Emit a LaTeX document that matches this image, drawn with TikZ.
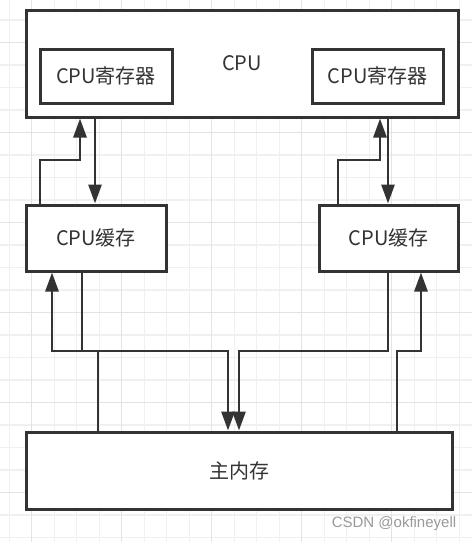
\documentclass[tikz,border=0pt]{standalone}
\usepackage{fontspec}
\setmainfont{Noto Sans CJK SC}
\newfontfamily\wmfont{Liberation Sans}
\usetikzlibrary{arrows.meta}
\definecolor{ink}{HTML}{333333}
\definecolor{gridminor}{HTML}{F0F0F0}
\definecolor{gridmajor}{HTML}{E3E3E3}
\definecolor{wmcol}{HTML}{9A9A9A}
\begin{document}
\begin{tikzpicture}[x=1pt,y=-1pt,
  box/.style={draw=ink,line width=3pt,fill=white,rectangle,inner sep=0pt,text=ink,font=\fontsize{20}{24}\selectfont},
  arr/.style={draw=ink,line width=2.8pt,-{Triangle[length=19pt,width=13pt]}},
  gminor/.style={draw=gridminor,line width=1.2pt},
  gmajor/.style={draw=gridmajor,line width=1.2pt}]
\fill[white] (0,0) rectangle (472,542);
\useasboundingbox (0,0) rectangle (472,542);
% grid
\foreach \k in {0,...,20} \draw[gminor] ({9.2+22.5*\k},0) -- ({9.2+22.5*\k},542);
\foreach \k in {0,...,23} \draw[gminor] (0,{20+22.5*\k}) -- (472,{20+22.5*\k});
\foreach \k in {1,5,9,13,17} \draw[gmajor] ({9.2+22.5*\k},0) -- ({9.2+22.5*\k},542);
\foreach \k in {1,5,9,13,17,21} \draw[gmajor] (0,{20+22.5*\k}) -- (472,{20+22.5*\k});
% nodes
\node[box,minimum width=432pt,minimum height=107pt] (cpu) at (242,63.5) {CPU};
\node[box,minimum width=132pt,minimum height=54pt] (reg1) at (106,76) {CPU寄存器};
\node[box,minimum width=131pt,minimum height=54pt] (reg2) at (377.5,76) {CPU寄存器};
\node[box,minimum width=140pt,minimum height=66pt] (cache1) at (96,238) {CPU缓存};
\node[box,minimum width=139pt,minimum height=66pt] (cache2) at (388.5,238) {CPU缓存};
\node[box,minimum width=426pt,minimum height=77pt] (mem) at (239,470.5) {主内存};
% connectors CPU <-> caches
\draw[arr] (cache1.north -| 40,0) |- (80,160) -- (cpu.south -| 80,0);
\draw[arr] (cpu.south -| 95,0) -- (cache1.north -| 95,0);
\draw[arr] (cache2.north -| 338,0) |- (380,160) -- (cpu.south -| 380,0);
\draw[arr] (cpu.south -| 388,0) -- (cache2.north -| 388,0);
% connectors caches <-> memory
\draw[arr] (mem.north -| 98,0) |- (52,351) -- (cache1.south -| 52,0);
\draw[arr] (cache1.south -| 82,0) |- (228,351) -- (mem.north -| 228,0);
\draw[arr] (cache2.south -| 388,0) |- (239,351) -- (mem.north -| 239,0);
\draw[arr] (mem.north -| 397,0) |- (421,351) -- (cache2.south -| 421,0);
% watermark
\node[text=wmcol,font=\wmfont\fontsize{15}{18}\selectfont] (wm) at (394,524) {CSDN @okfineyell};
\end{tikzpicture}
\end{document}
